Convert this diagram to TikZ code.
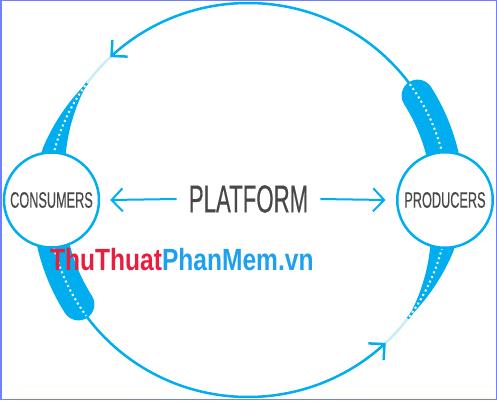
\documentclass[tikz,border=0pt]{standalone}
\usepackage{fontspec}
\usetikzlibrary{arrows.meta}
\newfontfamily\condfont[FakeStretch=0.57,FakeBold=0.3]{Liberation Sans}
\newfontfamily\wmfont[FakeStretch=0.8]{Liberation Sans Bold}
\definecolor{cyanline}{RGB}{0,174,239}
\definecolor{lightcyan}{RGB}{200,236,250}
\definecolor{txtgray}{RGB}{72,72,72}
\definecolor{wmred}{RGB}{232,30,62}
\definecolor{wmblue}{RGB}{30,160,240}
\definecolor{framecol}{RGB}{112,128,255}
\begin{document}
\begin{tikzpicture}[x=1pt,y=1pt,
  declare function={hw(\t,\s)=12*min(1,(\t-\s)/23);},
  orbit/.style={draw=cyanline, line width=2.5pt},
  faint/.style={draw=lightcyan, line width=2.5pt},
  fatarc/.style={draw=cyanline, line width=32pt, line cap=round},
  dots/.style={draw=white, line width=2pt, dash pattern=on 2pt off 3pt},
  bubble/.style={circle, draw=cyanline, line width=2.5pt, fill=white, inner sep=0pt, minimum size=95pt, text=txtgray, font=\condfont\fontsize{22.3}{24}\selectfont},
  chev/.style={draw=cyanline, line width=2.5pt, line join=miter},
  parr/.style={draw=cyanline, line width=2pt, -{Straight Barb[length=11pt, width=23pt]}},
  ell/.style={x radius=200, y radius=197}
]
\useasboundingbox (0,0) rectangle (497,400);
\draw[draw=framecol, line width=1.5pt] (0.75,0.75) rectangle (496.25,399.25);

% key points on the orbit
\foreach \a in {133,143,313,323,166,194,216,36,14,346,32,8,188,212}
  \coordinate (p\a) at ({248+200*cos(\a)},{200+197*sin(\a)});

% thin orbit
\draw[orbit] (p143) arc[start angle=143, end angle=313, ell];
\draw[orbit] (p323) arc[start angle=323, end angle=493, ell];
% faint segments
\draw[faint] (p133) arc[start angle=133, end angle=143, ell];
\draw[faint] (p313) arc[start angle=313, end angle=323, ell];

% tapered blobs
\fill[cyanline] plot[domain=143:178, samples=40] ({248+(200+hw(\x,143))*cos(\x)},{200+(197+hw(\x,143))*sin(\x)})
  -- plot[domain=178:143, samples=40] ({248+(200-hw(\x,143))*cos(\x)},{200+(197-hw(\x,143))*sin(\x)}) -- cycle;
\fill[cyanline] plot[domain=323:358, samples=40] ({248+(200+hw(\x,323))*cos(\x)},{200+(197+hw(\x,323))*sin(\x)})
  -- plot[domain=358:323, samples=40] ({248+(200-hw(\x,323))*cos(\x)},{200+(197-hw(\x,323))*sin(\x)}) -- cycle;
% thick rounded blobs
\draw[fatarc] (p8) arc[start angle=8, end angle=32, ell];
\draw[fatarc] (p188) arc[start angle=188, end angle=212, ell];

% dotted centre lines
\draw[dots] (p143) arc[start angle=143, end angle=166, ell];
\draw[dots] (p194) arc[start angle=194, end angle=216, ell];
\draw[dots] (p36) arc[start angle=36, end angle=14, ell];
\draw[dots] (p346) arc[start angle=346, end angle=323, ell];

% chevrons on the orbit
\draw[chev] ([shift={(87.5:16)}]p133) -- (p133) -- ([shift={(-2.5:16)}]p133);
\draw[chev] ([shift={(267.5:16)}]p313) -- (p313) -- ([shift={(177.5:16)}]p313);

% nodes
\node[bubble] (cons) at (51.5,200) {CONSUMERS};
\node[bubble, minimum size=95.5pt] (prod) at (445,200) {PRODUCERS};
\node[text=txtgray, inner xsep=12pt, font=\condfont\fontsize{39}{42}\selectfont] (plat) at (248.5,201) {PLATFORM};

\draw[parr] (plat.west) -- ([xshift=10pt]cons.east);
\draw[parr] (plat.east) -- ([xshift=-10.5pt]prod.west);

% watermark
\node[anchor=base west, inner sep=0pt, font=\wmfont\fontsize{30.7}{32}\selectfont] (wm) at (50,130)
  {\textcolor{wmred}{ThuThuat}\textcolor{wmblue}{PhanMem.vn}};
\end{tikzpicture}
\end{document}
